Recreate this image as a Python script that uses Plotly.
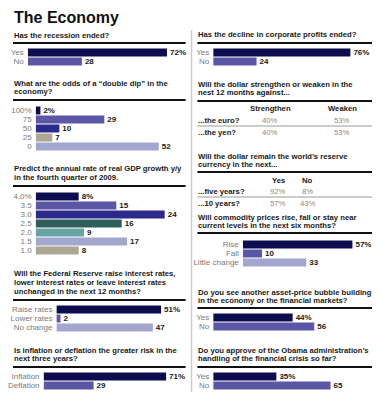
import plotly.graph_objects as go

# page is 380x400 with the browser's default 8px body margin
PAGE_OFF = 8
W, H = 380 - 2 * PAGE_OFF, 400 - 2 * PAGE_OFF

# ---------------- data ----------------
recession_cats = ["Yes", "No"]
recession_vals = [72, 28]
doubledip_cats = ["100%", "75", "50", "25", "0"]
doubledip_vals = [2, 29, 10, 7, 52]
gdp_cats = ["4.0%", "3.5", "3.0", "2.5", "2.0", "1.5", "1.0"]
gdp_vals = [8, 15, 24, 16, 9, 17, 8]
fed_cats = ["Raise rates", "Lower rates", "No change"]
fed_vals = [51, 2, 47]
inflation_cats = ["Inflation", "Deflation"]
inflation_vals = [71, 29]
profits_cats = ["Yes", "No"]
profits_vals = [76, 24]
dollar_cols = ["Strengthen", "Weaken"]
dollar_rows = ["...the euro?", "...the yen?"]
dollar_vals = [[40, 53], [40, 53]]
reserve_cols = ["Yes", "No"]
reserve_rows = ["...five years?", "...10 years?"]
reserve_vals = [[92, 8], [57, 43]]
commodity_cats = ["Rise", "Fall", "Little change"]
commodity_vals = [57, 10, 33]
bubble_cats = ["Yes", "No"]
bubble_vals = [44, 56]
obama_cats = ["Yes", "No"]
obama_vals = [35, 65]

NAVY = "#0c0c4e"
PURPLE = "#5b57a6"
DBLUE = "#2c2a8a"
KHAKI = "#aba792"
LAV = "#a3a6cf"
DTEAL = "#2f5e5b"
TEAL = "#67a4a3"

FONT = "Liberation Sans"
QSIZE = 7.7


def X(px):
    return (px - PAGE_OFF) / W


def Y(py):
    return 1 - (py - PAGE_OFF) / H


PITCH = 9

panels = [
    # cats, vals, colors, bar x0 (page px), px per unit, top (page px)
    (recession_cats, recession_vals, [NAVY, PURPLE], 23, 1.96, 48),
    (doubledip_cats, doubledip_vals, [NAVY, PURPLE, DBLUE, KHAKI, LAV], 31, 2.4, 106),
    (gdp_cats, gdp_vals, [NAVY, PURPLE, DBLUE, DTEAL, TEAL, LAV, KHAKI], 31, 5.45, 192),
    (fed_cats, fed_vals, [NAVY, PURPLE, LAV], 52, 2.08, 305),
    (inflation_cats, inflation_vals, [NAVY, PURPLE], 39, 1.75, 372),
    (profits_cats, profits_vals, [NAVY, PURPLE], 211, 1.83, 48),
    (commodity_cats, commodity_vals, [NAVY, PURPLE, LAV], 241, 1.95, 240),
    (bubble_cats, bubble_vals, [NAVY, PURPLE], 211, 1.83, 313),
    (obama_cats, obama_vals, [NAVY, PURPLE], 211, 1.83, 372),
]

fig = go.Figure()
layout_axes = {}
for i, (cats, vals, cols, x0, scale, top) in enumerate(panels, start=1):
    right_edge = 186 if x0 < 190 else 371
    xmax = (right_edge - x0) / scale
    n = len(cats)
    sfx = "" if i == 1 else str(i)
    texts = [f"<b>{v}%</b>" if k == 0 else f"<b>{v}</b>" for k, v in enumerate(vals)]
    fig.add_trace(go.Bar(
        x=vals, y=cats, orientation="h",
        marker=dict(color=cols, line=dict(width=0)),
        text=texts, textposition="outside", cliponaxis=False,
        constraintext="none",
        textfont=dict(family=FONT, size=8, color="#1a1a1a"),
        hoverinfo="skip",
        xaxis="x" + sfx, yaxis="y" + sfx,
    ))
    layout_axes["xaxis" + sfx] = dict(
        domain=[X(x0), X(right_edge)], range=[0, xmax],
        visible=False, anchor="y" + sfx, fixedrange=True,
    )
    layout_axes["yaxis" + sfx] = dict(
        domain=[Y(top + n * PITCH), Y(top)], type="category",
        categoryorder="array", categoryarray=cats, autorange="reversed",
        tickmode="array", tickvals=cats, ticktext=cats,
        anchor="x" + sfx, showgrid=False, zeroline=False, showline=False,
        ticks="", ticklabelstandoff=3,
        tickfont=dict(family=FONT, size=8, color="#7a7a7a"),
        fixedrange=True,
    )

annotations = []
shapes = []


def text(x, y, s, size=QSIZE, color="#1a1a1a", anchor="left", bold=True, yanchor="middle"):
    annotations.append(dict(
        x=X(x), y=Y(y), xref="paper", yref="paper", text=(f"<b>{s}</b>" if bold else s),
        showarrow=False, xanchor=anchor, yanchor=yanchor, borderpad=0,
        font=dict(family=FONT, size=size, color=color),
    ))


def rule(x0, x1, y, width=2, color="#111111"):
    shapes.append(dict(type="line", xref="paper", yref="paper",
                       x0=X(x0), x1=X(x1), y0=Y(y), y1=Y(y),
                       line=dict(color=color, width=width)))


# title
text(8, 8, "The Economy", size=16, color="#111111", yanchor="top")

# vertical divider
shapes.append(dict(type="line", xref="paper", yref="paper", x0=X(189), x1=X(189),
                   y0=Y(30), y1=Y(392), line=dict(color="#cccccc", width=1.5)))

LX0, LX1 = 8, 183
RX0, RX1 = 195, 372

# left column questions
text(LX0, 35, "Has the recession ended?")
rule(LX0, LX1, 43)
text(LX0, 83, "What are the odds of a “double dip” in the")
text(LX0, 91, "economy?")
rule(LX0, LX1, 100)
text(LX0, 169, "Predict the annual rate of real GDP growth y/y")
text(LX0, 177, "in the fourth quarter of 2009.")
rule(LX0, LX1, 186)
text(LX0, 273, "Will the Federal Reserve raise interest rates,")
text(LX0, 282, "lower interest rates or leave interest rates")
text(LX0, 291, "unchanged in the next 12 months?")
rule(LX0, LX1, 300)
text(LX0, 350, "Is inflation or deflation the greater risk in the")
text(LX0, 358, "next three years?")
rule(LX0, LX1, 367)

# right column questions
text(RX0, 34, "Has the decline in corporate profits ended?")
rule(RX0, RX1, 43)
text(RX0, 84.5, "Will the dollar strengthen or weaken in the")
text(RX0, 93, "nest 12 months against...")
rule(RX0, RX1, 101)
# dollar table
col_x = [269, 342]
for cx, c in zip(col_x, dollar_cols):
    text(cx, 109, c, anchor="center")
row_y = [120, 132]
for ry, r, vals in zip(row_y, dollar_rows, dollar_vals):
    text(RX0, ry, r)
    for cx, v in zip(col_x, vals):
        text(cx, ry, f"{v}%", color="#8a8a8a", anchor="center", bold=False)
rule(RX0, RX1, 126, width=1, color="#999999")

text(RX0, 156, "Will the dollar remain the world’s reserve")
text(RX0, 164, "currency in the next...")
rule(RX0, RX1, 172)
col_x = [277, 307]
for cx, c in zip(col_x, reserve_cols):
    text(cx, 180, c, anchor="center")
row_y = [191, 203]
for ry, r, vals in zip(row_y, reserve_rows, reserve_vals):
    text(RX0, ry, r)
    for cx, v in zip(col_x, vals):
        text(cx, ry, f"{v}%", color="#8a8a8a", anchor="center", bold=False)
rule(RX0, RX1, 197, width=1, color="#999999")

text(RX0, 217, "Will commodity prices rise, fall or stay near")
text(RX0, 225, "current levels in the next six months?")
rule(RX0, RX1, 233)
text(RX0, 292, "Do you see another asset-price bubble building")
text(RX0, 300, "in the economy or the financial markets?")
rule(RX0, RX1, 308)
text(RX0, 350, "Do you approve of the Obama administration’s")
text(RX0, 358, "handling of the financial crisis so far?")
rule(RX0, RX1, 367)

fig.update_layout(
    width=W, height=H, margin=dict(l=0, r=0, t=0, b=0),
    paper_bgcolor="white", plot_bgcolor="white",
    showlegend=False, bargap=0.12,
    annotations=annotations, shapes=shapes,
    **layout_axes,
)

fig.write_html("out.html")
